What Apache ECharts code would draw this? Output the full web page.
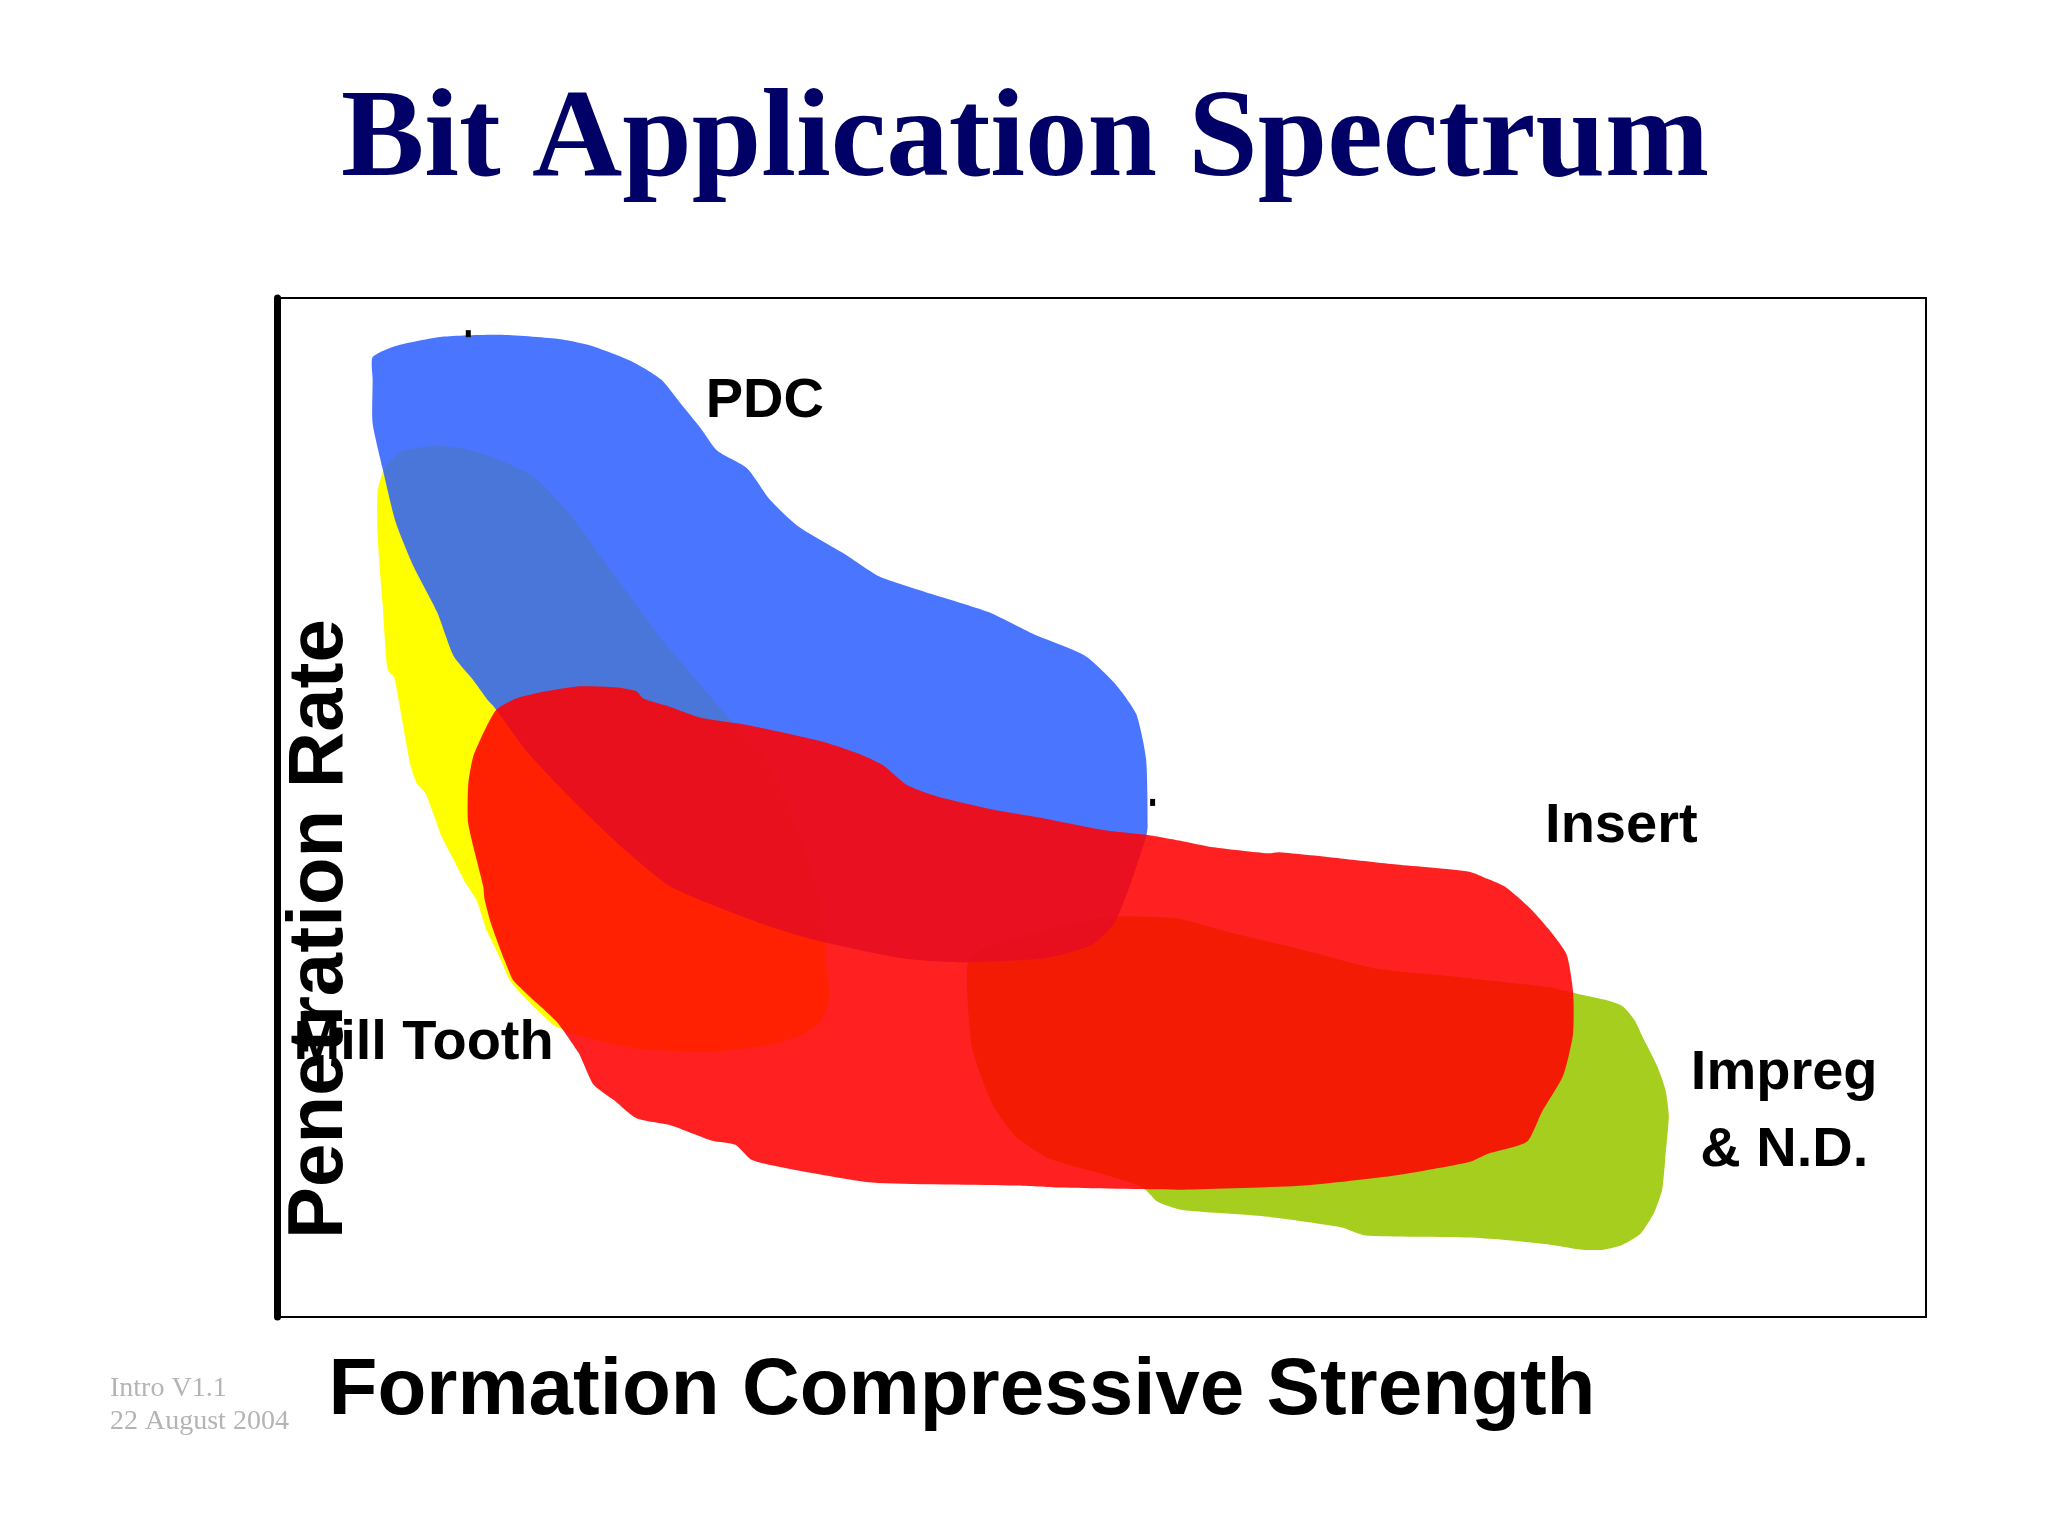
<!DOCTYPE html>
<html>
<head>
<meta charset="utf-8">
<script src="https://cdn.jsdelivr.net/npm/echarts@6/dist/echarts.min.js"></script>
<style>
html,body{margin:0;padding:0;background:#fff;}
#chart{width:2048px;height:1536px;}
</style>
</head>
<body>
<div id="chart"></div>
<script>
// Outlines of each bit type's region, in axis units (0-100 on both axes)
const millTooth = [
[6.7,83.7],[7.6,85.0],[9.7,85.5],[11.4,85.2],[13.5,84.1],[15.6,82.4],[17.7,78.9],[20.5,72.7],[23.3,66.6],[25.7,62.0],[27.5,58.6],
[29.5,55.0],[31.3,49.0],[32.6,43.0],[33.2,38.0],[33.3,34.6],[33.5,31.3],[33.0,29.1],[32.0,27.8],[29.9,26.7],[26.0,26.0],[22.0,26.3],
[19.0,27.3],[16.9,28.5],[15.8,30.1],[14.7,31.9],[14.1,33.1],[13.5,35.3],[12.7,38.0],[12.1,40.9],[11.4,42.7],[10.7,44.9],[10.0,47.1],
[9.5,49.3],[9.0,51.4],[8.5,52.3],[8.1,54.1],[7.6,58.5],[7.1,62.8],[6.7,63.6],[6.4,70.1],[6.1,76.7],[6.1,81.1],[6.4,82.8]
];
const impreg = [
[41.9,34.8],[43.0,36.3],[45.5,37.5],[48.0,38.5],[50.5,39.3],[54.6,39.1],[57.9,37.7],[62.3,36.0],[66.7,34.2],[71.5,33.4],[77.1,32.4],
[78.4,31.9],[79.2,31.6],[80.6,31.1],[81.6,30.5],[82.3,29.2],[82.9,27.2],[83.7,24.6],[84.2,22.3],[84.4,19.7],[84.2,15.8],[84.0,12.5],
[83.5,10.2],[82.7,8.2],[81.6,7.1],[80.4,6.6],[79.2,6.6],[77.2,7.1],[74.2,7.6],[72.3,7.8],[66.0,8.0],[64.5,8.8],[59.7,9.9],[54.9,10.5],
[53.4,11.3],[52.5,12.7],[50.1,14.0],[46.9,15.5],[44.8,17.7],[43.4,20.8],[42.2,26.0],[41.9,30.4]
];
const pdc = [
[5.8,94.2],[7.2,95.3],[10.0,96.2],[13.5,96.4],[17.0,96.0],[19.1,95.3],[21.5,93.8],[23.3,92.0],[24.6,89.4],[25.7,87.2],[26.7,85.0],
[28.5,83.3],[29.9,80.2],[31.6,77.6],[34.4,74.9],[36.5,72.7],[39.6,71.0],[43.1,69.2],[45.9,67.0],[49.0,64.9],[50.8,62.2],[52.1,59.2],
[52.7,54.8],[52.8,48.2],[52.7,47.1],[51.8,42.7],[50.8,38.7],[49.4,36.5],[46.6,35.2],[41.4,34.8],[37.9,35.2],[32.6,37.0],[29.2,38.7],
[23.9,42.2],[21.2,45.7],[18.0,50.6],[15.2,55.4],[13.2,59.8],[12.8,60.5],[11.8,62.7],[10.7,64.9],[9.7,69.2],[8.3,73.6],[7.2,78.0],
[6.4,83.3],[5.8,87.7],[5.8,92.0]
];
const insert = [
[13.3,59.6],[14.5,60.7],[16.3,61.4],[18.4,61.9],[20.5,61.8],[21.8,61.4],[22.2,60.7],[23.6,60.0],[25.7,58.8],[28.5,58.1],[33.0,56.5],
[35.4,55.2],[36.8,54.1],[38.2,52.2],[40.0,51.1],[43.4,49.8],[46.6,48.9],[50.1,47.8],[52.8,47.3],[54.9,46.7],[56.8,46.1],[60.1,45.5],
[60.8,45.6],[64.5,45.0],[67.9,44.4],[72.3,43.7],[73.4,43.0],[74.5,42.2],[76.0,40.1],[77.1,38.1],[78.2,35.6],[78.6,31.9],[78.6,27.8],
[78.0,23.7],[76.7,20.1],[75.8,17.2],[73.4,16.0],[72.3,15.2],[67.9,13.9],[62.3,12.9],[54.9,12.5],[47.5,12.7],[44.8,12.9],[36.1,13.2],
[30.9,14.6],[28.8,15.4],[27.8,16.9],[26.4,17.3],[23.9,18.8],[21.8,19.5],[20.5,21.2],[19.2,22.8],[18.5,25.2],[18.3,25.9],[17.0,28.9],
[15.9,30.6],[14.9,32.1],[14.3,33.1],[13.8,35.0],[13.0,38.5],[12.6,40.9],[12.5,42.3],[11.6,48.4],[11.6,52.3],[11.9,55.0],[12.6,57.6]
];
// Region labels: [text, x, y, alignment]
const regionLabels = [
  ['PDC', 26.0, 89.8, 'left'],
  ['Insert', 76.9, 48.1, 'left'],
  ['Impreg', 91.4, 23.9, 'center'],
  ['& N.D.', 91.4, 16.3, 'center'],
  ['Mill Tooth', 1.0, 26.8, 'left']
];
const strayMarks = [[11.6,96.5],[53.1,50.5]];

const titleText = 'Bit Application Spectrum';
const xName = 'Formation Compressive Strength';
const yName = 'Penetration Rate';
const footer = ['Intro V1.1', '22 August 2004'];

const chart = echarts.init(document.getElementById('chart'));

function region(name, pts, fill, opacity) {
  return {
    type: 'custom', name: name, silent: true,
    data: [[0, 0]],
    encode: { x: 0, y: 1 },
    renderItem: function (params, api) {
      const p = pts.map(function (q) { return api.coord(q); });
      return { type: 'polygon', shape: { points: p, smooth: 0.2 }, style: { fill: fill, opacity: opacity } };
    }
  };
}

const option = {
  backgroundColor: '#ffffff',
  animation: false,
  grid: { left: 277, right: 122, top: 298, bottom: 219, show: true, borderColor: '#000', borderWidth: 2, backgroundColor: 'transparent' },
  xAxis: { type: 'value', min: 0, max: 100, axisLine: { show: false }, axisTick: { show: false }, axisLabel: { show: false }, splitLine: { show: false } },
  yAxis: { type: 'value', min: 0, max: 100, axisLine: { show: true, lineStyle: { color: '#000', width: 7 } }, axisTick: { show: false }, axisLabel: { show: false }, splitLine: { show: false } },
  series: [
    region('Mill Tooth', millTooth, '#FFFF00', 1),
    region('Impreg & N.D.', impreg, '#A6CE1F', 1),
    region('PDC', pdc, 'rgb(42,94,255)', 0.85),
    region('Insert', insert, 'rgb(255,2,2)', 0.88),
    {
      type: 'scatter', silent: true, z: 5,
      symbol: 'rect', symbolSize: [5, 7],
      itemStyle: { color: '#000', opacity: 1 },
      data: strayMarks
    },
    {
      type: 'scatter', silent: true, z: 10,
      symbolSize: 0,
      itemStyle: { opacity: 1 },
      data: regionLabels.map(function (l) {
        return {
          name: l[0], value: [l[1], l[2]],
          label: { show: true, formatter: '{b}', position: l[3] === 'left' ? 'right' : 'inside', distance: 0,
                   align: l[3], verticalAlign: 'middle', opacity: 1,
                   fontFamily: 'Liberation Sans, Arial, sans-serif', fontWeight: 'bold', fontSize: 56, color: '#000' }
        };
      })
    }
  ],
  graphic: [
    { type: 'text', x: 1025, y: 143, z: 100, style: { text: titleText, font: 'bold 125px "Liberation Serif", "Times New Roman", serif', fill: '#000066', align: 'center', verticalAlign: 'middle' } },
    { type: 'text', x: 962, y: 1392, z: 100, style: { text: xName, font: 'bold 80px "Liberation Sans", Arial, sans-serif', fill: '#000', align: 'center', verticalAlign: 'middle' } },
    { type: 'text', x: 320, y: 929, z: 100, rotation: Math.PI / 2, style: { text: yName, font: 'bold 78px "Liberation Sans", Arial, sans-serif', fill: '#000', align: 'center', verticalAlign: 'middle' } },
    { type: 'text', x: 110, y: 1389, z: 100, style: { text: footer[0], font: '28px "Liberation Serif", "Times New Roman", serif', fill: '#b4b4b4', align: 'left', verticalAlign: 'middle' } },
    { type: 'text', x: 110, y: 1422, z: 100, style: { text: footer[1], font: '28px "Liberation Serif", "Times New Roman", serif', fill: '#b4b4b4', align: 'left', verticalAlign: 'middle' } }
  ]
};
chart.setOption(option);
</script>
</body>
</html>
